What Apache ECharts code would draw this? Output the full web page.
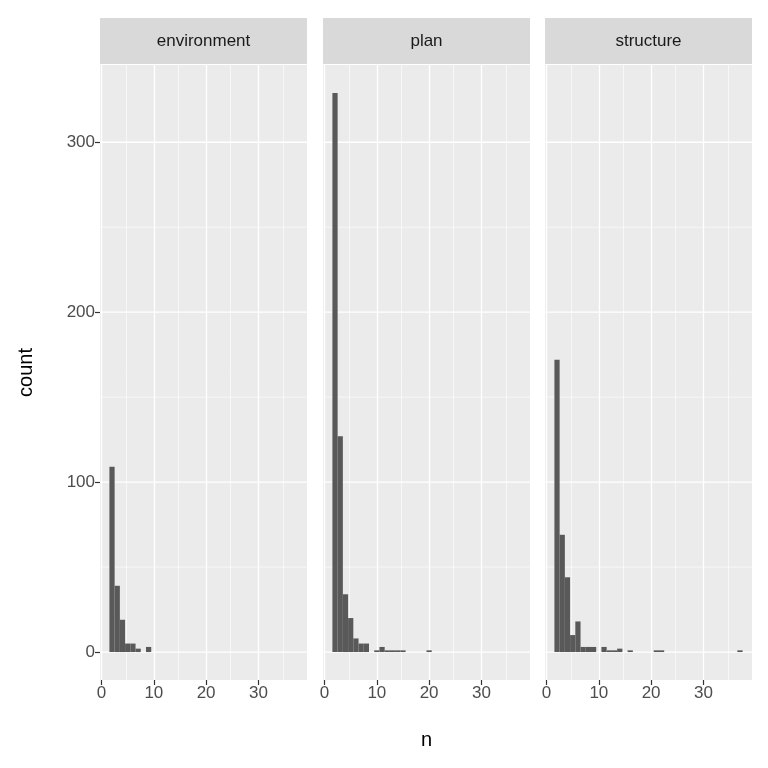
<!DOCTYPE html>
<html>
<head>
<meta charset="utf-8">
<script src="https://cdn.jsdelivr.net/npm/echarts@6/dist/echarts.min.js"></script>
<style>html,body{margin:0;padding:0;background:#fff}#c{width:768px;height:768px}</style>
</head>
<body>
<div id="c"></div>
<script>
// facet names
var panels = ['environment', 'plan', 'structure'];
// histogram bins: n value (bin centre, width 1) and count
var envN = [2, 3, 4, 5, 6, 7, 9];
var envCount = [109, 39, 19, 5, 5, 2, 3];
var planN = [2, 3, 4, 5, 6, 7, 8, 10, 11, 12, 13, 14, 15, 20];
var planCount = [329, 127, 34, 20, 8, 5, 5, 1, 3, 1, 1, 1, 1, 1];
var strN = [2, 3, 4, 5, 6, 7, 8, 9, 11, 12, 13, 14, 16, 21, 22, 37];
var strCount = [172, 69, 44, 10, 18, 3, 3, 3, 3, 1, 1, 2, 1, 1, 1, 1];
var xTicks = [0, 10, 20, 30];
var yTicks = [0, 100, 200, 300];

var chart = echarts.init(document.getElementById('c'));
var lefts = [100, 323, 545];
var w = 207;
var data = [[envN, envCount], [planN, planCount], [strN, strCount]];

var grids = [], xAxes = [], yAxes = [], series = [], graphics = [];
panels.forEach(function (p, i) {
    grids.push({left: lefts[i], top: 65, width: w, height: 615, backgroundColor: '#EBEBEB', show: true, borderWidth: 0});
    xAxes.push({
        type: 'value', gridIndex: i, min: -0.3, max: 39.3, interval: 10,
        axisLine: {show: false, onZero: false},
        axisTick: {show: true, length: 5, lineStyle: {color: '#333', width: 1.2}, customValues: xTicks},
        axisLabel: {color: '#4D4D4D', fontSize: 17, fontFamily: 'Liberation Sans', margin: 5, customValues: xTicks},
        splitLine: {show: true, lineStyle: {color: '#fff', width: 1.3}},
        minorTick: {show: false, splitNumber: 2},
        minorSplitLine: {show: true, lineStyle: {color: '#fff', width: 0.6}},
        name: i === 1 ? 'n' : '', nameLocation: 'middle', nameGap: 50,
        nameTextStyle: {color: '#000', fontSize: 20, fontFamily: 'Liberation Sans'}
    });
    yAxes.push({
        type: 'value', gridIndex: i, min: -16.45, max: 345.45,
        axisLine: {show: false, onZero: false},
        axisTick: {show: i === 0, length: 5, lineStyle: {color: '#333', width: 1.2}, customValues: yTicks},
        axisLabel: {show: i === 0, color: '#4D4D4D', fontSize: 17, fontFamily: 'Liberation Sans', margin: 5, customValues: yTicks},
        splitLine: {show: false},
        name: i === 0 ? 'count' : '', nameLocation: 'middle', nameGap: 64, nameRotate: 90,
        nameTextStyle: {color: '#000', fontSize: 20, fontFamily: 'Liberation Sans'}
    });
    // horizontal gridlines
    series.push({
        type: 'custom', xAxisIndex: i, yAxisIndex: i, silent: true,
        data: [0, 50, 100, 150, 200, 250, 300].map(function (v) { return [v]; }),
        renderItem: function (params, api) {
            var v = api.value(0);
            var a = api.coord([-0.3, v]), b = api.coord([39.3, v]);
            return {type: 'line', shape: {x1: a[0], y1: a[1], x2: b[0], y2: b[1]},
                style: {stroke: '#fff', lineWidth: v % 100 === 0 ? 1.3 : 0.6}};
        }, z: 1
    });
    series.push({
        type: 'custom', xAxisIndex: i, yAxisIndex: i,
        data: data[i][0].map(function (n, k) { return [n, data[i][1][k]]; }),
        renderItem: function (params, api) {
            var a = api.coord([api.value(0) - 0.5, api.value(1)]);
            var b = api.coord([api.value(0) + 0.5, 0]);
            return {type: 'rect', shape: {x: a[0], y: a[1], width: b[0] - a[0], height: b[1] - a[1]},
                style: {fill: '#595959'}};
        }, z: 2
    });
    graphics.push({type: 'rect', shape: {x: lefts[i], y: 18, width: w, height: 46}, style: {fill: '#D9D9D9'}});
    graphics.push({type: 'text', x: lefts[i] + w / 2, y: 41,
        style: {text: p, fill: '#1A1A1A', fontSize: 17, fontFamily: 'Liberation Sans', align: 'center', verticalAlign: 'middle'}});
});

chart.setOption({
    animation: false,
    grid: grids, xAxis: xAxes, yAxis: yAxes, series: series, graphic: graphics
});
</script>
</body>
</html>
